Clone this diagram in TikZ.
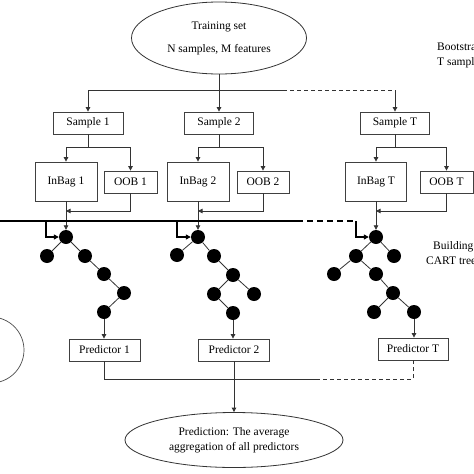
\documentclass[tikz,border=0pt]{standalone}
\usepackage{fontspec}
\setmainfont{Liberation Serif}
\usetikzlibrary{arrows.meta,shapes.geometric}
\begin{document}
\begin{tikzpicture}[x=1pt,y=-1pt,
  line/.style={draw=black!80, line width=0.8pt},
  arr/.style={line, -{Triangle[length=4.5pt,width=4.5pt]}},
  dline/.style={line, dash pattern=on 4pt off 3pt},
  box/.style={draw=black!75, line width=0.8pt, minimum height=22pt, inner sep=0pt, font=\fontsize{11.5}{13}\selectfont},
  oval/.style={ellipse, draw=black!80, line width=0.8pt, inner sep=0pt, align=center},
  dot/.style={circle, fill=black, minimum size=14pt, inner sep=0pt},
  bus/.style={draw=black, line width=1.6pt},
  hook/.style={bus, -{Triangle[length=5pt,width=5pt]}},
  lbl/.style={anchor=west, align=left, inner sep=0pt, font=\fontsize{11.5}{15}\selectfont}]
\clip (0,0) rectangle (474,474);
\fill[white] (0,0) rectangle (474,474);

% left partial circle
\draw[black!70, line width=0.7pt] (-9,350) circle[radius=33pt];

% top ellipse
\node[oval, minimum width=175pt, minimum height=72pt, font=\fontsize{11.5}{13}\selectfont] (train) at (219,38) {Training set\\[10pt]N samples, M features};

% side labels
\node[lbl] (boot) at (437,55) {Bootstrap\\T samples};
\node[lbl] (build1) at (433,247) {Building T};
\node[lbl] (build2) at (426,261) {CART trees};

% samples
\node[box, minimum width=70pt] (s1) at (88,123) {Sample 1};
\node[box, minimum width=69pt] (s2) at (219,123) {Sample 2};
\node[box, minimum width=69pt] (sT) at (395,123) {Sample T};

\coordinate (t1) at (88,90);
\coordinate (tm) at (283,90);
\coordinate (tT) at (395,90);
\draw[line] (t1) -- (tm);
\draw[dline] (tm) -- (tT);
\draw[arr] (t1) -- (s1.north);
\draw[arr] (tT) -- (sT.north);
\draw[arr] (train.south) -- (s2.north);

% inbag / oob
\node[box, minimum width=62pt, minimum height=39pt] (ib1) at (66,181.5) {InBag 1};
\node[box, minimum width=53pt] (o1) at (130.5,182) {OOB 1};
\node[box, minimum width=62pt, minimum height=39pt] (ib2) at (198,181.5) {InBag 2};
\node[box, minimum width=52pt] (o2) at (263,182) {OOB 2};
\node[box, minimum width=61pt, minimum height=39pt] (ibT) at (376,181.5) {InBag T};
\node[box, minimum width=53pt] (oT) at (446.5,182) {OOB T};

\coordinate (b1) at (88,147);
\coordinate (b2) at (219,147);
\coordinate (bT) at (395,147);
\draw[line] (s1.south) -- (b1);
\draw[line] (s2.south) -- (b2);
\draw[line] (sT.south) -- (bT);
\draw[arr] (b1) -| (ib1.north);
\draw[arr] (b1) -| (o1.north);
\draw[arr] (b2) -| (ib2.north);
\draw[arr] (b2) -| (o2.north);
\draw[arr] (bT) -| (ibT.north);
\draw[arr] (bT) -| (oT.north);

\coordinate (j1) at (66,211);
\coordinate (j2) at (198,211);
\coordinate (jT) at (376,211);
\draw[arr] (o1.south) |- (j1);
\draw[arr] (o2.south) |- (j2);
\draw[arr] (oT.south) |- (jT);

% trees
\node[dot] (r1) at (66,237) {};
\node[dot] (a1) at (47,256) {};
\node[dot] (c1) at (85,256) {};
\node[dot] (d1) at (104,274) {};
\node[dot] (e1) at (124,293) {};
\node[dot] (f1) at (104,312) {};
\draw[line] (r1) -- (a1) (r1) -- (c1) (c1) -- (d1) (d1) -- (e1) (e1) -- (f1);

\node[dot] (r2) at (198,237) {};
\node[dot] (a2) at (177,255) {};
\node[dot] (c2) at (214,256) {};
\node[dot] (d2) at (233,275) {};
\node[dot] (e2) at (214,294) {};
\node[dot] (g2) at (254,294) {};
\node[dot] (f2) at (233,313) {};
\draw[line] (r2) -- (a2) (r2) -- (c2) (c2) -- (d2) (d2) -- (e2) (d2) -- (g2) (e2) -- (f2);

\node[dot] (rT) at (376,237) {};
\node[dot] (aT) at (356,256) {};
\node[dot] (cT) at (394,256) {};
\node[dot] (dT) at (334,274) {};
\node[dot] (eT) at (376,274) {};
\node[dot] (fT) at (393,293) {};
\node[dot] (gT) at (374,312) {};
\node[dot] (leafT) at (414,312) {};
\draw[line] (rT) -- (aT) (rT) -- (cT) (aT) -- (dT) (aT) -- (eT) (eT) -- (fT) (fT) -- (gT) (fT) -- (leafT);

% inbag -> root
\draw[arr] (ib1.south) -- (r1.north);
\draw[arr] (ib2.south) -- (r2.north);
\draw[arr] (ibT.south) -- (rT.north);

% bus and hooks
\coordinate (busL) at (0,221);
\coordinate (busM) at (297,221);
\coordinate (k1) at (46,221);
\coordinate (k2) at (177,221);
\coordinate (kT) at (356,221);
\draw[bus] (busL) -- (busM);
\draw[bus, dash pattern=on 6pt off 4pt] (busM) -- (kT);
\draw[hook] (k1) |- (r1.west);
\draw[hook] (k2) |- (r2.west);
\draw[hook] (kT) |- (rT.west);

% predictors
\node[box, minimum width=71pt] (p1) at (104.5,350) {Predictor 1};
\node[box, minimum width=71pt] (p2) at (234,350) {Predictor 2};
\node[box, minimum width=70pt] (pT) at (413,349) {Predictor T};
\draw[arr] (f1.south) -- (p1.north -| f1.south);
\draw[arr] (f2.south) -- (p2.north -| f2.south);
\draw[arr] (leafT.south) -- (pT.north -| leafT.south);

% aggregation
\node[oval, minimum width=218pt, minimum height=55pt, font=\fontsize{11.5}{15}\selectfont] (pred) at (234,440) {Prediction: The average\\aggregation of all predictors};
\coordinate (q1) at (104,379);
\coordinate (qm) at (316,379);
\coordinate (qT) at (413,379);
\draw[line] (p1.south -| q1) -- (q1) -- (qm);
\draw[dline] (qm) -- (qT) -- (pT.south -| qT);
\draw[arr] (p2.south) -- (pred.north);
\end{tikzpicture}
\end{document}
